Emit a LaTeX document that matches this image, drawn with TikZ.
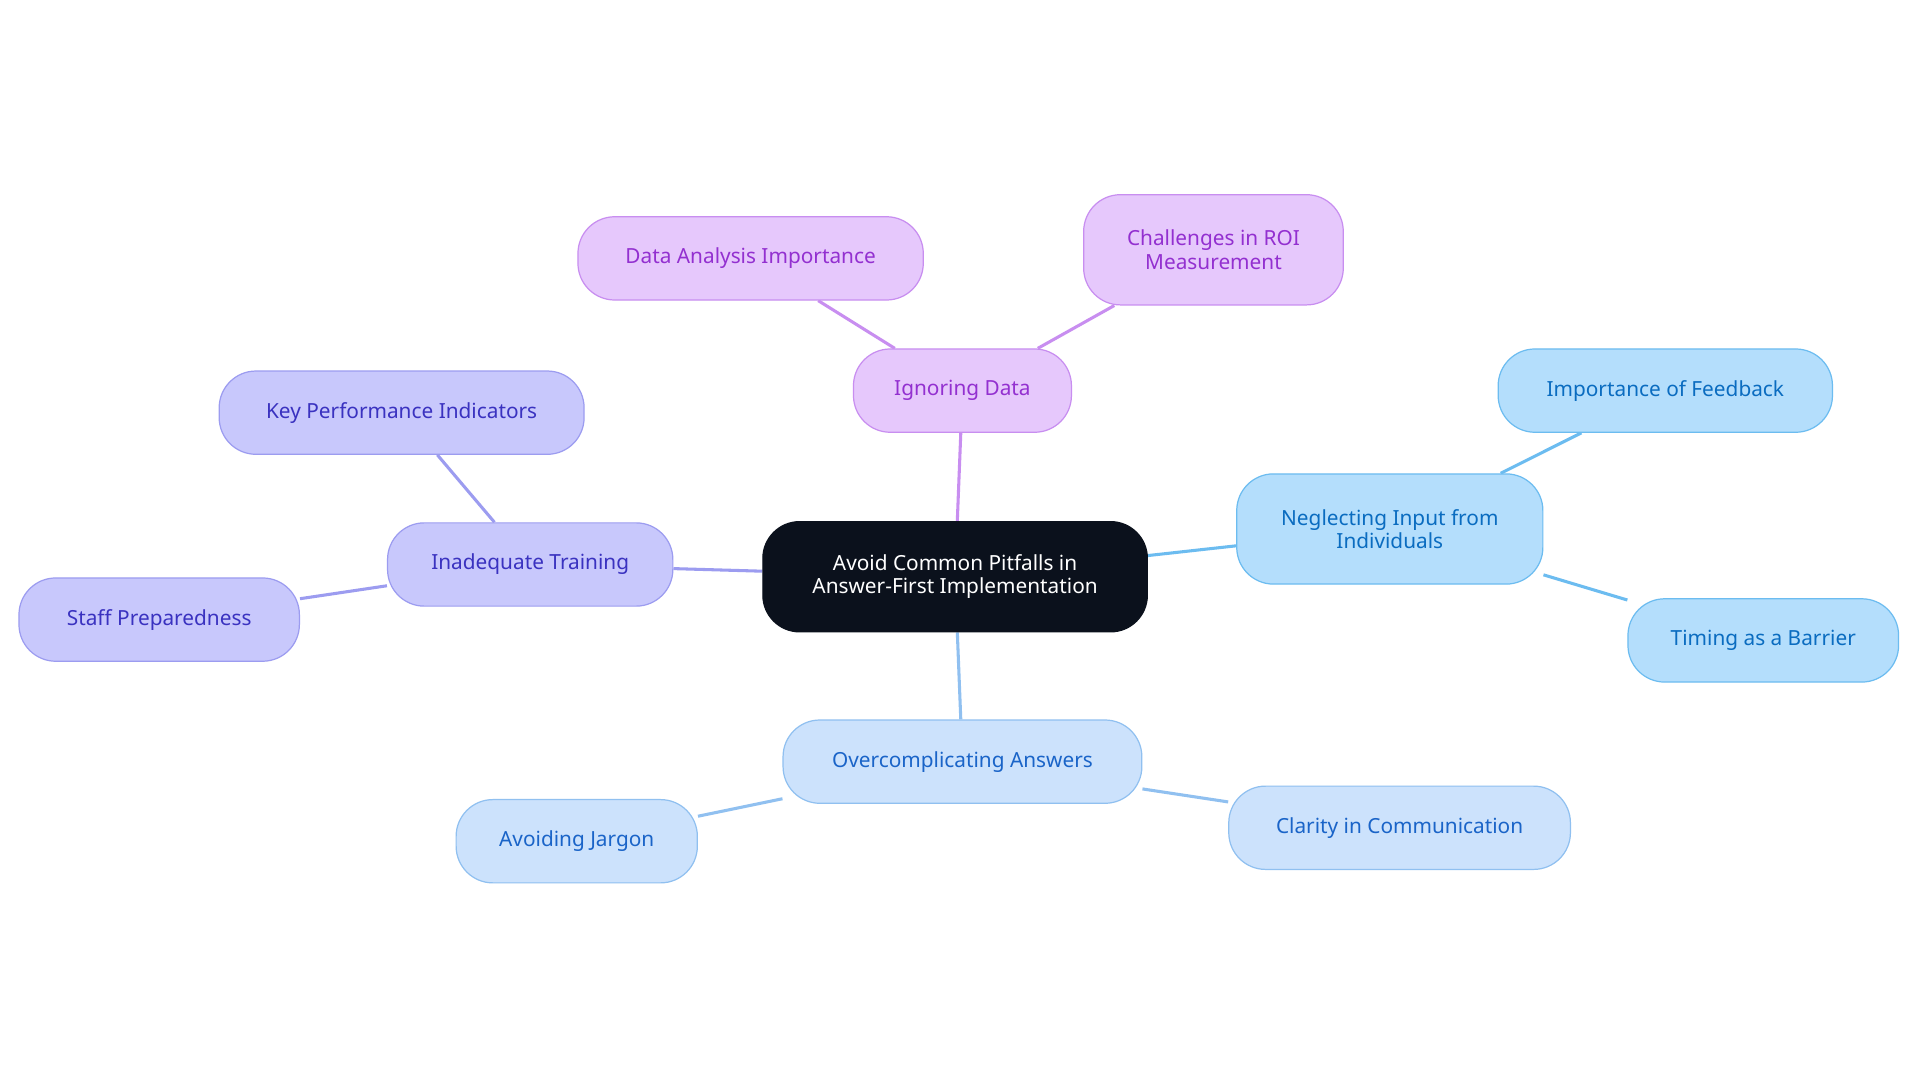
\documentclass[tikz,border=0pt]{standalone}
\usepackage{fontspec}
\setmainfont{Noto Sans}
\usetikzlibrary{backgrounds}
\definecolor{pF}{HTML}{E6C8FC}\definecolor{pD}{HTML}{C88EF0}\definecolor{pT}{HTML}{9330D0}
\definecolor{iF}{HTML}{C8C8FC}\definecolor{iD}{HTML}{9C9CF0}\definecolor{iT}{HTML}{3A32C0}
\definecolor{bF}{HTML}{B4DEFC}\definecolor{bD}{HTML}{6CBCF0}\definecolor{bT}{HTML}{0A6CC0}
\definecolor{lF}{HTML}{CCE2FC}\definecolor{lD}{HTML}{90C0F0}\definecolor{lT}{HTML}{1A64C8}
\definecolor{dark}{HTML}{0B111C}
\begin{document}
\begin{tikzpicture}[x=1pt,y=-1pt,
 box/.style={rounded corners=30pt,line width=1pt,align=center,font=\fontsize{17}{19}\selectfont,inner sep=0pt},
 n/.style 2 args={box,minimum width=#1pt,minimum height=#2pt},
 P/.style={fill=pF,draw=pD,text=pT},I/.style={fill=iF,draw=iD,text=iT},
 B/.style={fill=bF,draw=bD,text=bT},L/.style={fill=lF,draw=lD,text=lT},
 e/.style={line width=2.5pt}]
\node[n={178}{68},P] (ig) at (786,319) {Ignoring Data};
\node[n={282}{68},P] (da) at (613,211) {Data Analysis Importance};
\node[n={212}{90},P] (ch) at (991,204) {Challenges in ROI\\Measurement};
\node[n={233}{68},I] (it) at (433,461) {Inadequate Training};
\node[n={298}{68},I] (kp) at (328,337) {Key Performance Indicators};
\node[n={229}{68},I] (sp) at (130,506) {Staff Preparedness};
\node[n={250}{90},B] (ni) at (1135,432) {Neglecting Input from\\Individuals};
\node[n={273}{68},B] (if) at (1360,319) {Importance of Feedback};
\node[n={221}{68},B] (tb) at (1440,523) {Timing as a Barrier};
\node[n={293}{68},L] (oc) at (786,622) {Overcomplicating Answers};
\node[n={197}{68},L] (aj) at (471,687) {Avoiding Jargon};
\node[n={279}{68},L] (cc) at (1143,676) {Clarity in Communication};
\node[n={314}{90},fill=dark,draw=dark,text=white] (c) at (780,471) {Avoid Common Pitfalls in\\Answer-First Implementation};
\begin{scope}[on background layer]
\fill[white] (0,0) rectangle (1568,884);
\draw[e,pD] (c) -- (ig) (ig) -- (da) (ig) -- (ch);
\draw[e,iD] (c) -- (it) (it) -- (kp) (it) -- (sp);
\draw[e,bD] (c) -- (ni) (ni) -- (if) (ni) -- (tb);
\draw[e,lD] (c) -- (oc) (oc) -- (aj) (oc) -- (cc);
\end{scope}
\useasboundingbox (0,0) rectangle (1568,884);
\end{tikzpicture}
\end{document}
